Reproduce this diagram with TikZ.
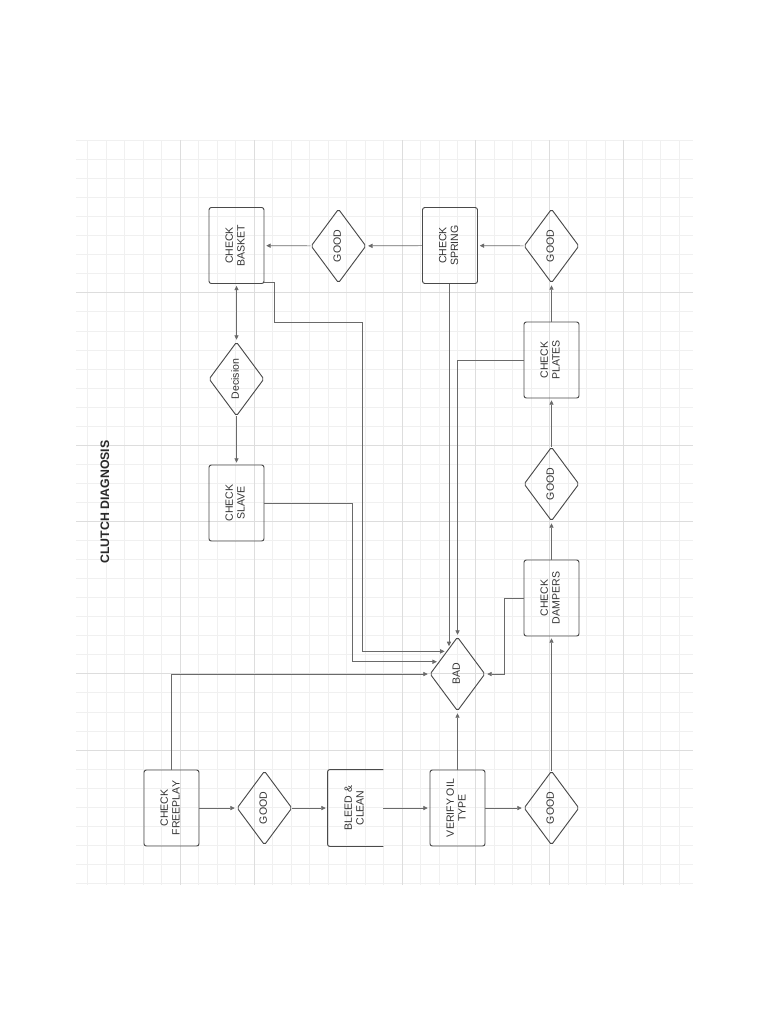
\documentclass[tikz,border=0pt]{standalone}
\usepackage{fontspec}
\setmainfont{Liberation Sans}
\setsansfont{Liberation Sans}
\usepackage{graphicx}
\usetikzlibrary{shapes.geometric, arrows.meta}

\definecolor{inkc}{HTML}{333333}
\definecolor{edgec}{HTML}{4A4A4A}
\definecolor{wirec}{HTML}{6A6A6A}
\definecolor{gridc}{HTML}{F0F0F0}
\definecolor{gridm}{HTML}{DDDDDD}

% text turned a quarter, read from bottom to top
\newcommand{\vlabel}[1]{\rotatebox{90}{\begin{tabular}{@{}c@{}}#1\end{tabular}}}

\begin{document}
\begin{tikzpicture}[x=0.03cm, y=-0.03cm,
    box/.style={draw=edgec, line width=0.8pt, rounded corners=2pt, minimum width=1.65cm, minimum height=2.28cm, inner sep=0pt, font=\fontsize{9}{10}\selectfont, text=inkc},
    openbox/.style={box, draw=none},
    choice/.style={diamond, draw=edgec, line width=0.8pt, rounded corners=1.5pt, minimum width=1.65cm, minimum height=2.22cm, inner sep=0pt, font=\fontsize{9}{10}\selectfont, text=inkc},
    title/.style={inner sep=0pt, font=\bfseries\fontsize{10.5}{12}\selectfont, text=inkc!80!black},
    link/.style={draw=wirec, line width=0.6pt, -{Triangle[length=3.8pt,width=3.6pt]}, shorten >=1.5pt}]

    \useasboundingbox (0,0) rectangle (768,1024);

    % Grid:
    \foreach \k in {0,...,32}
        \draw[gridc, line width=0.4pt] ({87.7+18.476*\k},140) -- ({87.7+18.476*\k},885);
    \foreach \k in {-1,...,38}
        \draw[gridc, line width=0.4pt] (76,{159.3+19.05*\k}) -- (693,{159.3+19.05*\k});
    \foreach \k in {5,9,17,21,25,29}
        \draw[gridm, line width=0.5pt] ({87.7+18.476*\k},140) -- ({87.7+18.476*\k},885);
    \foreach \k in {7,15,19,27,31}
        \draw[gridm, line width=0.5pt] (76,{159.3+19.05*\k}) -- (693,{159.3+19.05*\k});

    % title
    \node[title] (title) at (105,502) {\rotatebox{90}{CLUTCH DIAGNOSIS}};

    % top row
    \node[box] (basket) at (236.5,245.5) {\vlabel{CHECK\\BASKET}};
    \node[choice] (good2) at (338.5,246) {\vlabel{GOOD}};
    \node[box] (spring) at (450,245.5) {\vlabel{CHECK\\SPRING}};
    \node[choice] (good1) at (551.5,246) {\vlabel{GOOD}};

    % left column
    \node[choice] (decision) at (236.5,379) {\vlabel{Decision}};
    \node[box] (slave) at (236.5,503) {\vlabel{CHECK\\SLAVE}};

    % right column
    \node[box] (plates) at (551.5,360) {\vlabel{CHECK\\PLATES}};
    \node[choice] (good3) at (551.5,484) {\vlabel{GOOD}};
    \node[box] (dampers) at (551.5,598) {\vlabel{CHECK\\DAMPERS}};
    \node[choice] (bad) at (457.5,674) {\vlabel{BAD}};

    % bottom row
    \node[box] (freeplay) at (171.5,808) {\vlabel{CHECK\\FREEPLAY}};
    \node[choice] (good4) at (264.5,808) {\vlabel{GOOD}};
    \node[openbox] (bleed) at (355.5,808) {\vlabel{BLEED \&\\CLEAN}};
    \draw[edgec, line width=0.8pt, rounded corners=2pt] (bleed.north east) -- (bleed.north west) -- (bleed.south west) -- (bleed.south east);
    \node[box] (verify) at (457.5,808) {\vlabel{VERIFY OIL\\TYPE}};
    \node[choice] (good5) at (551.5,808) {\vlabel{GOOD}};

    % flow
    \draw[link] (freeplay) -- (good4);
    \draw[link] (good4) -- (bleed);
    \draw[link] (bleed.east) -- (verify);
    \draw[link] (verify) -- (good5);
    \draw[link] (good5) -- (dampers);
    \draw[link] (dampers) -- (good3);
    \draw[link] (good3) -- (plates);
    \draw[link] (plates) -- (good1);
    \draw[link] (good1) -- (spring);
    \draw[link] (spring) -- (good2);
    \draw[link] (good2) -- (basket);
    \draw[link, {Triangle[length=3.8pt,width=3.6pt]}-{Triangle[length=3.8pt,width=3.6pt]}, shorten <=1.5pt] (basket) -- (decision);
    \draw[link] (decision) -- (slave);

    % into BAD
    \draw[link] (verify) -- (bad);
    \draw[link] (freeplay.north) |- (bad.west);
    \draw[link] (slave.east) -- ++(87.5,0) |- (bad.147);
    \draw[link] ([yshift=0.5mm]basket.south east) -- ++(10,0) |- (362,322) |- (bad.116);
    \draw[link] (spring.south -| bad.108) -- (bad.108);
    \draw[link] (plates.west) -| (bad.north);
    \draw[link] (dampers.west) -- ++(-19,0) |- (bad.east);
\end{tikzpicture}
\end{document}
